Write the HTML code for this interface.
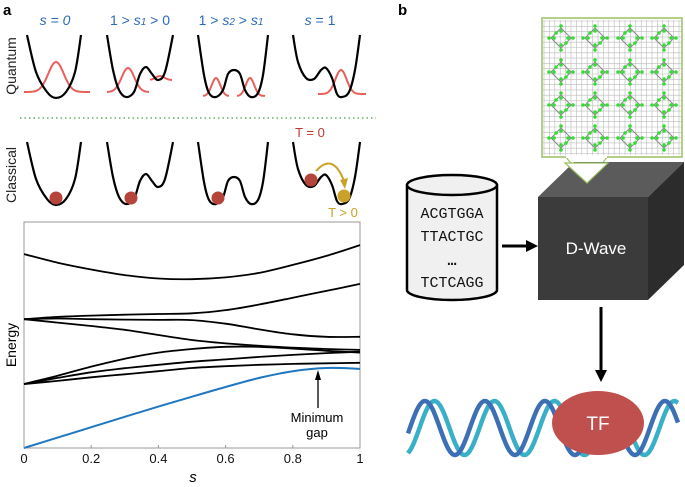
<!DOCTYPE html>
<html><head><meta charset="utf-8"><style>
body{margin:0;background:#fff}
svg{display:block;font-family:"Liberation Sans",sans-serif}
</style></head><body>
<svg id="fig" width="685" height="487" viewBox="0 0 685 487">
<text x="3" y="15" font-size="15" font-weight="bold">a</text>
<text x="398" y="15" font-size="15" font-weight="bold">b</text>
<g fill="#2a6ab8" font-size="14" text-anchor="middle">
<text x="55" y="25" font-style="italic">s = 0</text>
<text x="140" y="25">1 &gt; <tspan font-style="italic">s</tspan><tspan font-size="10" font-style="italic">1</tspan> &gt; 0</text>
<text x="231" y="25">1 &gt; <tspan font-style="italic">s</tspan><tspan font-size="10" font-style="italic">2</tspan> &gt; <tspan font-style="italic">s</tspan><tspan font-size="10" font-style="italic">1</tspan></text>
<text x="320" y="25"><tspan font-style="italic">s</tspan> = 1</text>
</g>
<text transform="translate(16,66) rotate(-90)" font-size="14" text-anchor="middle" fill="#222">Quantum</text>
<text transform="translate(16,175) rotate(-90)" font-size="14" text-anchor="middle" fill="#222">Classical</text>
<line x1="20" y1="118" x2="376" y2="118" stroke="#4a9a4a" stroke-width="1.3" stroke-dasharray="1.5,3"/>
<g id="wells" fill="none"></g>
<text x="310" y="137" font-size="13" fill="#c0392b" text-anchor="middle">T = 0</text>
<text x="343" y="217" font-size="13" fill="#c9a227" text-anchor="middle">T &gt; 0</text>
<g id="chart"></g>

<g>
<polygon points="565,156 608,156 587,183" fill="#fff" stroke="#9bbf60" stroke-width="1.2"/>
<rect x="542" y="18" width="140" height="139" fill="#fff" stroke="#9bbf60" stroke-width="1.5"/>
<line x1="566" y1="157" x2="607" y2="157" stroke="#fff" stroke-width="2"/>
<g id="chip"></g>
</g>
<g>
<polygon points="538,197 574,162 684,162 648,197" fill="#5b5b5b"/>
<polygon points="648,197 684,162 684,265 648,300" fill="#2c2c2c"/>
<rect x="538" y="197" width="110" height="103" fill="#3b3b3b"/>
<polygon points="565,163 608,163 587,183" fill="#fff" stroke="#9bbf60" stroke-width="1.2"/>
<text x="596" y="254" font-size="17" fill="#fff" text-anchor="middle">D-Wave</text>
</g>
<g>
<path d="M407,185 L407,290 A45,10 0 0 0 497,290 L497,185" fill="#f0f0f0" stroke="#000" stroke-width="2.5"/>
<ellipse cx="452" cy="185" rx="45" ry="10" fill="#f0f0f0" stroke="#000" stroke-width="2.5"/>
<g font-family="Liberation Mono,monospace" font-size="15" text-anchor="middle" fill="#111">
<text x="452" y="218">ACGTGGA</text><text x="452" y="241">TTACTGC</text><text x="452" y="265" font-weight="bold">…</text><text x="452" y="287">TCTCAGG</text></g>
</g>
<g stroke="#000" stroke-width="3" fill="#000">
<line x1="502" y1="246" x2="528" y2="246"/><polygon points="526,240 538,246 526,252" stroke="none"/>
<line x1="601" y1="307" x2="601" y2="372"/><polygon points="595,370 601,382 607,370" stroke="none"/>
</g>
<g id="dna" fill="none" stroke-width="4.5"></g>
<ellipse cx="598" cy="423" rx="46" ry="32" fill="#c0504d"/>
<text x="598" y="430" font-size="19" fill="#fff" text-anchor="middle">TF</text>
</svg>
<script>
const sValues=[0,0.1,0.2,0.3,0.4,0.5,0.6,0.7,0.8,0.9,1];
const level1=[85.8,82,79,76.5,75,74.7,75.5,77.5,81,85,89.8];
const level2=[57,58,58.6,59,59.3,59.6,61,63.5,66.5,69.5,72.6];
const level3=[57,57.3,57,56.8,56.7,56.6,55,52.5,50.3,49.2,49.2];
const level4=[57,55.5,54,52.3,50,47.8,46.3,45.2,44.4,43.8,43.4];
const level5=[28.3,32,36,39.5,42.2,43.8,44.8,44.8,44,43,42.2];
const level6=[28.3,31,33.5,35.3,36.8,38.2,39.2,40.3,41.2,42,42.6];
const level7=[28.3,29.7,31.3,32.6,34,35.4,36.2,36.8,37.2,37.5,37.7];
const ground=[0,4.6,9.2,13.8,18.3,22.7,27,31,34,35.4,35];
const xTicks=["0","0.2","0.4","0.6","0.8","1"];
const NS="http://www.w3.org/2000/svg";
function mk(t,a,p){const e=document.createElementNS(NS,t);for(const k in a)e.setAttribute(k,a[k]);p.appendChild(e);return e;}
function smooth(pts){let d="M"+pts[0][0]+","+pts[0][1];for(let i=0;i<pts.length-1;i++){const p0=pts[Math.max(0,i-1)],p1=pts[i],p2=pts[i+1],p3=pts[Math.min(pts.length-1,i+2)];const c1=[p1[0]+(p2[0]-p0[0])/6,p1[1]+(p2[1]-p0[1])/6],c2=[p2[0]-(p3[0]-p1[0])/6,p2[1]-(p3[1]-p1[1])/6];d+=" C"+c1[0].toFixed(1)+","+c1[1].toFixed(1)+" "+c2[0].toFixed(1)+","+c2[1].toFixed(1)+" "+p2[0].toFixed(1)+","+p2[1].toFixed(1);}return d;}
const L=24,R=360,T=222,B=448;
const xs=v=>L+v*(R-L), ys=v=>B-v/100*(B-T);
const ch=document.getElementById('chart');
const frame=mk('rect',{x:L,y:T,width:R-L,height:B-T,fill:'none',stroke:'#999','stroke-width':1},ch);


const lv=[level1,level2,level3,level4,level5,level6,level7];
lv.forEach((arr,i)=>{const p=mk('path',{d:smooth(arr.map((v,j)=>[xs(sValues[j]),ys(v)])),fill:'none',stroke:'#000','stroke-width':1.8},ch);

});
const g=mk('path',{d:smooth(ground.map((v,j)=>[xs(sValues[j]),ys(v)])),fill:'none',stroke:'#1f77c0','stroke-width':2},ch);


xTicks.forEach(t=>{const x=xs(parseFloat(t));
const tk=mk('line',{x1:x,y1:B,x2:x,y2:B-3,stroke:'#999'},ch);


const tl=mk('text',{x:x,y:463,'font-size':13,'text-anchor':'middle',fill:'#111'},ch);tl.textContent=t;

});
const xl=mk('text',{x:193,y:482,'font-size':15,'font-style':'italic','text-anchor':'middle'},ch);xl.textContent='s';


const yl=mk('text',{transform:'translate(16,345) rotate(-90)','font-size':14,'text-anchor':'middle'},ch);yl.textContent='Energy';


const ax=xs(0.875);
const ar=mk('g',{},ch);


mk('line',{x1:ax,y1:408,x2:ax,y2:378,stroke:'#000','stroke-width':1.3},ar);
mk('polygon',{points:`${ax-3},380 ${ax},370 ${ax+3},380`,fill:'#000'},ar);
const t1=mk('text',{x:ax-1,y:422,'font-size':13,'text-anchor':'middle'},ar);t1.textContent='Minimum';
const t2=mk('text',{x:ax-1,y:437,'font-size':13,'text-anchor':'middle'},ar);t2.textContent='gap';
const W=document.getElementById('wells');
const shapes=[
[[27,35],[36,72],[47,92],[56,98],[66,92],[75,72],[81,35]],
[[107,35],[113,70],[119,90],[126,97],[134,92],[140,74],[146,67],[152,74],[158,80],[165,72],[173,35]],
[[198,35],[204,75],[209,93],[216,97],[223,90],[228,74],[234,70],[240,74],[245,90],[251,97],[258,93],[263,75],[268,35]],
[[293,35],[298,62],[306,78],[314,79],[321,70],[326,68],[332,78],[337,94],[342,97],[349,92],[355,70],[360,35]]];
function gauss(c,peak,base,w,x0,x1){const p=[];for(let x=x0;x<=x1;x+=2)p.push([x,base-(base-peak)*Math.exp(-Math.pow((x-c)/w,2))]);return p;}
const gs=[[gauss(56,62,92,11,24,90)],[gauss(128,68,92,9,107,150),gauss(160,76,80,6,150,172)],[gauss(216,78,96,6,203,230),gauss(250,78,96,6,237,265)],[gauss(341,70,94,8,318,366)]];
shapes.forEach((s,i)=>{
gs[i].forEach(q=>{const e=mk('path',{d:smooth(q),stroke:'#e8605a','stroke-width':2},W);});
const a=mk('path',{d:smooth(s),stroke:'#000','stroke-width':2.2},W);


const b=mk('path',{d:smooth(s.map(p=>[p[0],p[1]+107])),stroke:'#000','stroke-width':2.2},W);

});
[[56,198,'#b5443a'],[131,198,'#b5443a'],[218,198,'#b5443a'],[311,180,'#b5443a'],[344,196,'#c9a227']].forEach(c=>{
const e=mk('circle',{cx:c[0],cy:c[1],r:6.5,fill:c[2]},W);

});
const arc=mk('path',{d:'M316,171 Q333,152 344,181',stroke:'#c9a227','stroke-width':2},W);


mk('polygon',{points:'340,180 345,189 348,178',fill:'#c9a227'},W);
const C=document.getElementById('chip');
for(let i=0;i<26;i++){const x=544+i*5.4;mk('line',{x1:x,y1:20,x2:x,y2:155,stroke:'#bbb','stroke-width':0.6},C);}
for(let i=0;i<26;i++){const y=21+i*5.3;mk('line',{x1:543,y1:y,x2:681,y2:y,stroke:'#bbb','stroke-width':0.6},C);}
[561,595,630,664].forEach(cx=>[38,72,105,138].forEach(cy=>{
mk('polygon',{points:`${cx},${cy-10} ${cx+10},${cy} ${cx},${cy+10} ${cx-10},${cy}`,fill:'none',stroke:'#888','stroke-width':1},C);
[[0,-12],[0,-7],[0,7],[0,12],[-12,0],[-7,0],[7,0],[12,0],[-5,-5],[5,5]].forEach(d=>mk('circle',{cx:cx+d[0],cy:cy+d[1],r:1.8,fill:'#33dd33'},C));}));
const D=document.getElementById('dna');
function helix(ph,col){const p=[];for(let x=408;x<=680;x+=3)p.push([x,428-27*Math.sin((x-408)/60*2*Math.PI+ph)]);const e=mk('path',{d:smooth(p),stroke:col},D);}
helix(-1.2,'#3ab0c8');helix(-0.2,'#3d6fb5');
</script>
</body></html>
